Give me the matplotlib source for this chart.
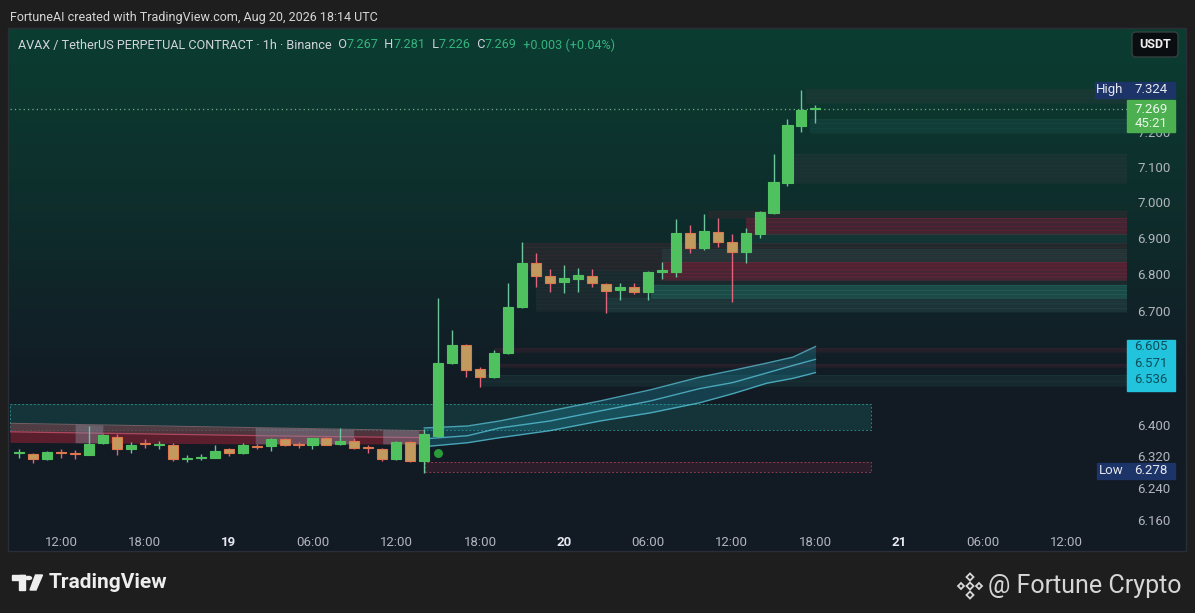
import numpy as np
import matplotlib
matplotlib.use("Agg")
import matplotlib.pyplot as plt
from matplotlib.patches import Rectangle, Polygon, Circle, FancyBboxPatch
from matplotlib.colors import LinearSegmentedColormap
from matplotlib.ticker import FixedLocator, NullLocator, FuncFormatter

plt.rcParams['font.family'] = ['Roboto', 'DejaVu Sans']

# 1h candles, x = hours since Aug 18 00:00 UTC
hours = np.arange(9, 67)
opens = [6.327, 6.326, 6.313, 6.329, 6.327, 6.324, 6.354, 6.369, 6.337, 6.352,
         6.348, 6.349, 6.313, 6.316, 6.316, 6.339, 6.329, 6.346, 6.346, 6.364,
         6.350, 6.347, 6.365, 6.351, 6.359, 6.342, 6.339, 6.313, 6.356, 6.308,
         6.372, 6.561, 6.609, 6.545, 6.524, 6.587, 6.711, 6.831, 6.795, 6.779,
         6.787, 6.795, 6.773, 6.756, 6.765, 6.752, 6.806, 6.806, 6.913, 6.872,
         6.916, 6.889, 6.861, 6.910, 6.970, 7.054, 7.218, 7.267]
highs = [6.339, 6.328, 6.333, 6.339, 6.336, 6.397, 6.376, 6.377, 6.356, 6.364,
         6.359, 6.354, 6.323, 6.326, 6.349, 6.341, 6.354, 6.351, 6.367, 6.367,
         6.356, 6.367, 6.368, 6.392, 6.367, 6.349, 6.341, 6.358, 6.358, 6.390,
         6.735, 6.649, 6.612, 6.550, 6.595, 6.776, 6.889, 6.858, 6.814, 6.826,
         6.817, 6.814, 6.776, 6.776, 6.776, 6.808, 6.834, 6.953, 6.936, 6.967,
         6.956, 6.910, 6.928, 6.976, 7.137, 7.239, 7.324, 7.281]
lows = [6.315, 6.303, 6.311, 6.315, 6.313, 6.322, 6.352, 6.323, 6.328, 6.341,
        6.339, 6.308, 6.305, 6.310, 6.314, 6.321, 6.326, 6.339, 6.334, 6.346,
        6.341, 6.339, 6.347, 6.349, 6.339, 6.328, 6.308, 6.311, 6.305, 6.278,
        6.370, 6.558, 6.524, 6.498, 6.522, 6.585, 6.708, 6.765, 6.751, 6.749,
        6.751, 6.765, 6.695, 6.730, 6.746, 6.730, 6.787, 6.792, 6.858, 6.866,
        6.875, 6.724, 6.831, 6.901, 6.966, 7.045, 7.201, 7.226]
closes = [6.329, 6.313, 6.331, 6.327, 6.325, 6.352, 6.374, 6.339, 6.349, 6.350,
          6.350, 6.313, 6.316, 6.318, 6.334, 6.329, 6.349, 6.343, 6.364, 6.349,
          6.348, 6.365, 6.349, 6.359, 6.341, 6.340, 6.313, 6.356, 6.308, 6.377,
          6.561, 6.609, 6.542, 6.524, 6.587, 6.711, 6.831, 6.795, 6.776, 6.789,
          6.797, 6.776, 6.754, 6.764, 6.751, 6.806, 6.812, 6.913, 6.872, 6.919,
          6.889, 6.861, 6.913, 6.973, 7.057, 7.221, 7.265, 7.269]

last_price = 7.269
high_price = 7.324
low_price = 6.278
timer_text = "45:21"
header_title = "AVAX / TetherUS PERPETUAL CONTRACT · 1h · Binance"
header_change = "+0.003 (+0.04%)"

# level zones extending to the right edge
zone_start = [65.3, 65.6, 64.2, 58.3, 61.0, 61.0, 44.9, 46.0, 55.0, 55.0, 54.2, 51.0, 43.0, 43.0, 42.0]
zone_lo = [7.285, 7.198, 7.054, 6.956, 6.910, 6.886, 6.812, 6.700, 6.835, 6.784, 6.735, 6.697, 6.590, 6.552, 6.500]
zone_hi = [7.327, 7.240, 7.138, 6.975, 6.956, 6.910, 6.886, 6.812, 6.870, 6.835, 6.770, 6.735, 6.600, 6.558, 6.530]
zone_kind = ['flat', 'bull_weak', 'flat', 'bear_weak', 'bear', 'bull_weak', 'bear_weak', 'flat',
             'bull_weak', 'bear', 'bull', 'bull_weak', 'bear_weak', 'bear_weak', 'bull_weak']

# dashed boxes
box_start = [8.35, 38.05]
box_end = [70.0, 70.0]
box_lo = [6.387, 6.279]
box_hi = [6.453, 6.305]
box_kind = ['bull', 'bear']

# red ribbon on the left
ribbon_h = [8.35, 26.0, 38.0]
ribbon_top = [6.404, 6.393, 6.385]
ribbon_mid = [6.382, 6.372, 6.367]
ribbon_bot = [6.355, 6.351, 6.351]
neutral_start = [13.0, 25.9, 35.0]
neutral_end = [15.0, 33.0, 37.7]

# cyan trend ribbon
trend_h = [38.0, 41.1, 43.4, 47.0, 50.6, 54.2, 57.7, 60.1, 62.5, 64.4, 66.0]
trend_upper = [6.392, 6.397, 6.410, 6.436, 6.462, 6.491, 6.524, 6.542, 6.561, 6.577, 6.605]
trend_mid = [6.364, 6.372, 6.392, 6.410, 6.436, 6.462, 6.494, 6.510, 6.535, 6.555, 6.571]
trend_lower = [6.344, 6.354, 6.367, 6.385, 6.410, 6.431, 6.457, 6.481, 6.508, 6.521, 6.536]

signal_h = 39
signal_price = 6.328

# 6.500 / 6.600 sit behind the ribbon label box, so they are left out
ytick_vals = [6.16, 6.24, 6.32, 6.40, 6.70, 6.80, 6.90, 7.00, 7.10, 7.20]
xtick_hours = [12, 18, 24, 30, 36, 42, 48, 54, 60, 66, 72, 78, 84]
xtick_labels = ["12:00", "18:00", "19", "06:00", "12:00", "18:00", "20",
                "06:00", "12:00", "18:00", "21", "06:00", "12:00"]

W, H = 1195, 613
fig = plt.figure(figsize=(W / 100, H / 100), dpi=100, facecolor='#1e1e1e')

# panel background gradient
bg = fig.add_axes([8 / W, 1 - 551 / H, 1178 / W, 523 / H])
grad = np.linspace(0, 1, 256).reshape(-1, 1)
cmap = LinearSegmentedColormap.from_list('panel', ['#0b3d31', '#0e2e2c', '#121c25', '#131a24'])
bg.imshow(grad, aspect='auto', cmap=cmap, extent=[0, 1, 0, 1])
bg.axis('off')
fig.add_artist(Rectangle((8 / W, 1 - 551 / H), 1178 / W, 523 / H, transform=fig.transFigure,
                         fill=False, ec='#2a2e36', lw=1, zorder=1))

ax = fig.add_axes([10 / W, 1 - 525 / H, 1117 / W, 497 / H])
ax.set_facecolor('none')
ax.set_yscale('log')
x_end = 88.3
ax.set_xlim(8.35, x_end)
ax.set_ylim(6.147, 7.509)
for s in ax.spines.values():
    s.set_visible(False)

zone_style = {
    'bear': ('#8c1f3c', 0.42),
    'bear_weak': ('#7a2a3e', 0.18),
    'bull': ('#1f7a6c', 0.42),
    'bull_weak': ('#2a6a66', 0.18),
    'flat': ('#3a3c42', 0.25),
}
for s0, lo, hi, k in zip(zone_start, zone_lo, zone_hi, zone_kind):
    col, a = zone_style[k]
    ax.fill_between([s0, x_end], lo, hi, color=col, alpha=a, lw=0, zorder=1)
    # thin stripes give the layered look of the level lines
    n = max(2, int(np.log(hi / lo) * 2483 / 3))
    ax.hlines(np.geomspace(lo, hi, n), s0, x_end, color=col, alpha=a * 0.8, lw=0.6, zorder=1)

# dashed boxes
for s0, s1, lo, hi, k in zip(box_start, box_end, box_lo, box_hi, box_kind):
    col = '#1d6f6a' if k == 'bull' else '#6a2438'
    ec = '#2fa39a' if k == 'bull' else '#b0475f'
    ax.fill_between([s0, s1], lo, hi, color=col, alpha=0.3, lw=0, zorder=1)
    ax.plot([s0, s1, s1, s0, s0], [lo, lo, hi, hi, lo], color=ec, lw=0.7,
            ls=(0, (2, 2)), alpha=0.75, zorder=1)

# left ribbon
xr = np.linspace(ribbon_h[0], ribbon_h[-1], 300)
rt = np.interp(xr, ribbon_h, ribbon_top)
rm = np.interp(xr, ribbon_h, ribbon_mid)
rb = np.interp(xr, ribbon_h, ribbon_bot)
ax.fill_between(xr, rm, rt, color='#6a4048', alpha=0.7, lw=0, zorder=2)
ax.fill_between(xr, rb, rm, color='#6e1f30', alpha=0.8, lw=0, zorder=2)
ax.plot(xr, rm, color='#d0506a', lw=0.9, alpha=0.75, zorder=2)
ax.plot(xr, rt, color='#8a6a70', lw=0.7, alpha=0.8, zorder=2)
for n0, n1 in zip(neutral_start, neutral_end):
    m = (xr >= n0) & (xr <= n1)
    ax.fill_between(xr, rb, rt, where=m, color='#8d94a6', alpha=0.4, lw=0, zorder=2)

# cyan ribbon
ax.fill_between(trend_h, trend_lower, trend_upper, color='#1e8ea3', alpha=0.32, lw=0, zorder=2)
for ys in (trend_upper, trend_mid, trend_lower):
    ax.plot(trend_h, ys, color='#5fd0e6', lw=1.0, alpha=0.7, zorder=2)

# last price dotted line
ax.axhline(last_price, color='#8fd0a0', lw=0.9, ls=(0, (1, 2.5)), alpha=0.8, zorder=2)

# candles
o = np.array(opens); c = np.array(closes)
up = c >= o
wick_col = np.where(up, '#6cc59b', '#e2637c')
body_col = np.where(up, '#4fc25f', '#c29a5d')
edge_col = np.where(up, '#4fc25f', '#e0764c')
ax.vlines(hours, lows, highs, colors=wick_col, lw=1.0, zorder=3)
ax.bar(hours, np.maximum(np.abs(c - o), 0.0025), bottom=np.minimum(o, c), width=0.72,
       color=body_col, edgecolor=edge_col, lw=0.8, zorder=4)

ax.scatter([signal_h], [signal_price], s=42, color='#2a9a3a', zorder=4, lw=0)

# axes ticks
ax.yaxis.tick_right()
ax.yaxis.set_major_locator(FixedLocator(ytick_vals))
ax.yaxis.set_minor_locator(NullLocator())
ax.yaxis.set_major_formatter(FuncFormatter(lambda v, p: f"{v:.3f}"))
ax.yaxis.set_minor_formatter(FuncFormatter(lambda v, p: ""))
ax.tick_params(axis='y', length=0, pad=7.5, labelsize=9.5, labelcolor='#b2b5be')
ax.set_xticks(xtick_hours, xtick_labels)
ax.tick_params(axis='x', length=0, pad=8, labelsize=9.5, labelcolor='#b2b5be')
for t in ax.get_xticklabels():
    if ':' not in t.get_text():
        t.set_fontweight('bold')
        t.set_color('#e6e8ee')


def price_px(p):
    return H - ax.transData.transform((ax.get_xlim()[0], p))[1]


def px_rect(x0, y0, x1, y1, **kw):
    r = Rectangle((x0 / W, 1 - y1 / H), (x1 - x0) / W, (y1 - y0) / H,
                  transform=fig.transFigure, zorder=6, **kw)
    fig.add_artist(r)


def px_text(x, y, s, **kw):
    kw.setdefault('va', 'center')
    kw.setdefault('zorder', 7)
    return fig.text(x / W, 1 - y / H, s, **kw)


navy = '#1c3467'
# High label
yh = price_px(high_price)
px_rect(1095, yh - 8, 1175, yh + 8, color=navy)
px_text(1110, yh, "High", ha='center', color='#e6e8ee', fontsize=9.5)
px_text(1151, yh, f"{high_price:.3f}", ha='center', color='#e6e8ee', fontsize=9.5)

# last price label
yl = price_px(last_price)
px_rect(1127, yl - 8.5, 1175, yl + 23, color='#4caf50')
px_text(1151, yl + 0.5, f"{last_price:.3f}", ha='center', color='#eaf6ea', fontsize=9.5)
px_text(1151, yl + 14.5, timer_text, ha='center', color='#eaf6ea', fontsize=9.5)

# trend ribbon labels
yc = price_px(trend_upper[-1])
px_rect(1127, yc - 7, 1175, yc + 44, color='#22c3dc')
for i, v in enumerate([trend_upper[-1], trend_mid[-1], trend_lower[-1]]):
    px_text(1151, yc + i * 16.5, f"{v:.3f}", ha='center', color='#0c4f5c', fontsize=9.5)

# Low label
ylo = price_px(low_price) - 2
px_rect(1097, ylo - 8, 1175, ylo + 8, color=navy)
px_text(1111, ylo, "Low", ha='center', color='#e6e8ee', fontsize=9.5)
px_text(1151, ylo, f"{low_price:.3f}", ha='center', color='#e6e8ee', fontsize=9.5)

# USDT button
fig.add_artist(FancyBboxPatch((1132 / W, 1 - 57 / H), 46 / W, 25 / H,
                              boxstyle=f"round,pad=0,rounding_size={4 / W}",
                              mutation_aspect=W / H, transform=fig.transFigure,
                              fc='#0b0e10', ec='#33413e', lw=1, zorder=6))
px_text(1155, 44.5, "USDT", ha='center', color='#f0f0f0', fontsize=9, fontweight='bold')

# header line with OHLC
green = '#35b37e'
grey = '#d1d4dc'
parts = [(header_title, grey), ("  O", grey), (f"{opens[-1]:.3f}", green),
         ("  H", grey), (f"{highs[-1]:.3f}", green), ("  L", grey), (f"{lows[-1]:.3f}", green),
         ("  C", grey), (f"{closes[-1]:.3f}", green), ("  " + header_change, green)]
prev = px_text(18, 45, parts[0][0], color=parts[0][1], fontsize=9.1)
for s, col in parts[1:]:
    prev = ax.annotate(s, xy=(1, 0.5), xycoords=prev, va='center', ha='left',
                       color=col, fontsize=9.1, annotation_clip=False, zorder=7)

px_text(10, 17, "FortuneAI created with TradingView.com, Aug 20, 2026 18:14 UTC",
        color='#d6d6d6', fontsize=9)

# footer: TradingView logo
logo = '#eeeeee'
px_rect(12, 575, 25, 580, color=logo)
px_rect(19, 575, 25, 590, color=logo)
fig.add_artist(Circle((28.5 / W, 1 - 578 / H), 3 / W, transform=fig.transFigure,
                      color=logo, zorder=6))
pts = [(30, 590), (36, 590), (42.5, 575), (35.5, 575)]
fig.add_artist(Polygon([(x / W, 1 - y / H) for x, y in pts], closed=True,
                       transform=fig.transFigure, color=logo, zorder=6))
px_text(49, 583, "TradingView", color=logo, fontsize=15, fontweight='bold')

# footer: Binance-like mark and watermark text
cx, cy = 970, 586
for dx, dy, r in [(0, 0, 3.5), (0, -9, 3.5), (0, 9, 3.5), (-9, 0, 3), (9, 0, 3)]:
    pts = [(cx + dx, cy + dy - r), (cx + dx + r, cy + dy), (cx + dx, cy + dy + r), (cx + dx - r, cy + dy)]
    fig.add_artist(Polygon([(x / W, 1 - y / H) for x, y in pts], closed=True,
                           transform=fig.transFigure, fc='none', ec='#d6d6d6', lw=1.3, zorder=6))
px_text(988, 586, "@ Fortune Crypto", color='#d6d6d6', fontsize=18)

fig.savefig("out.png", dpi=100, facecolor=fig.get_facecolor())
